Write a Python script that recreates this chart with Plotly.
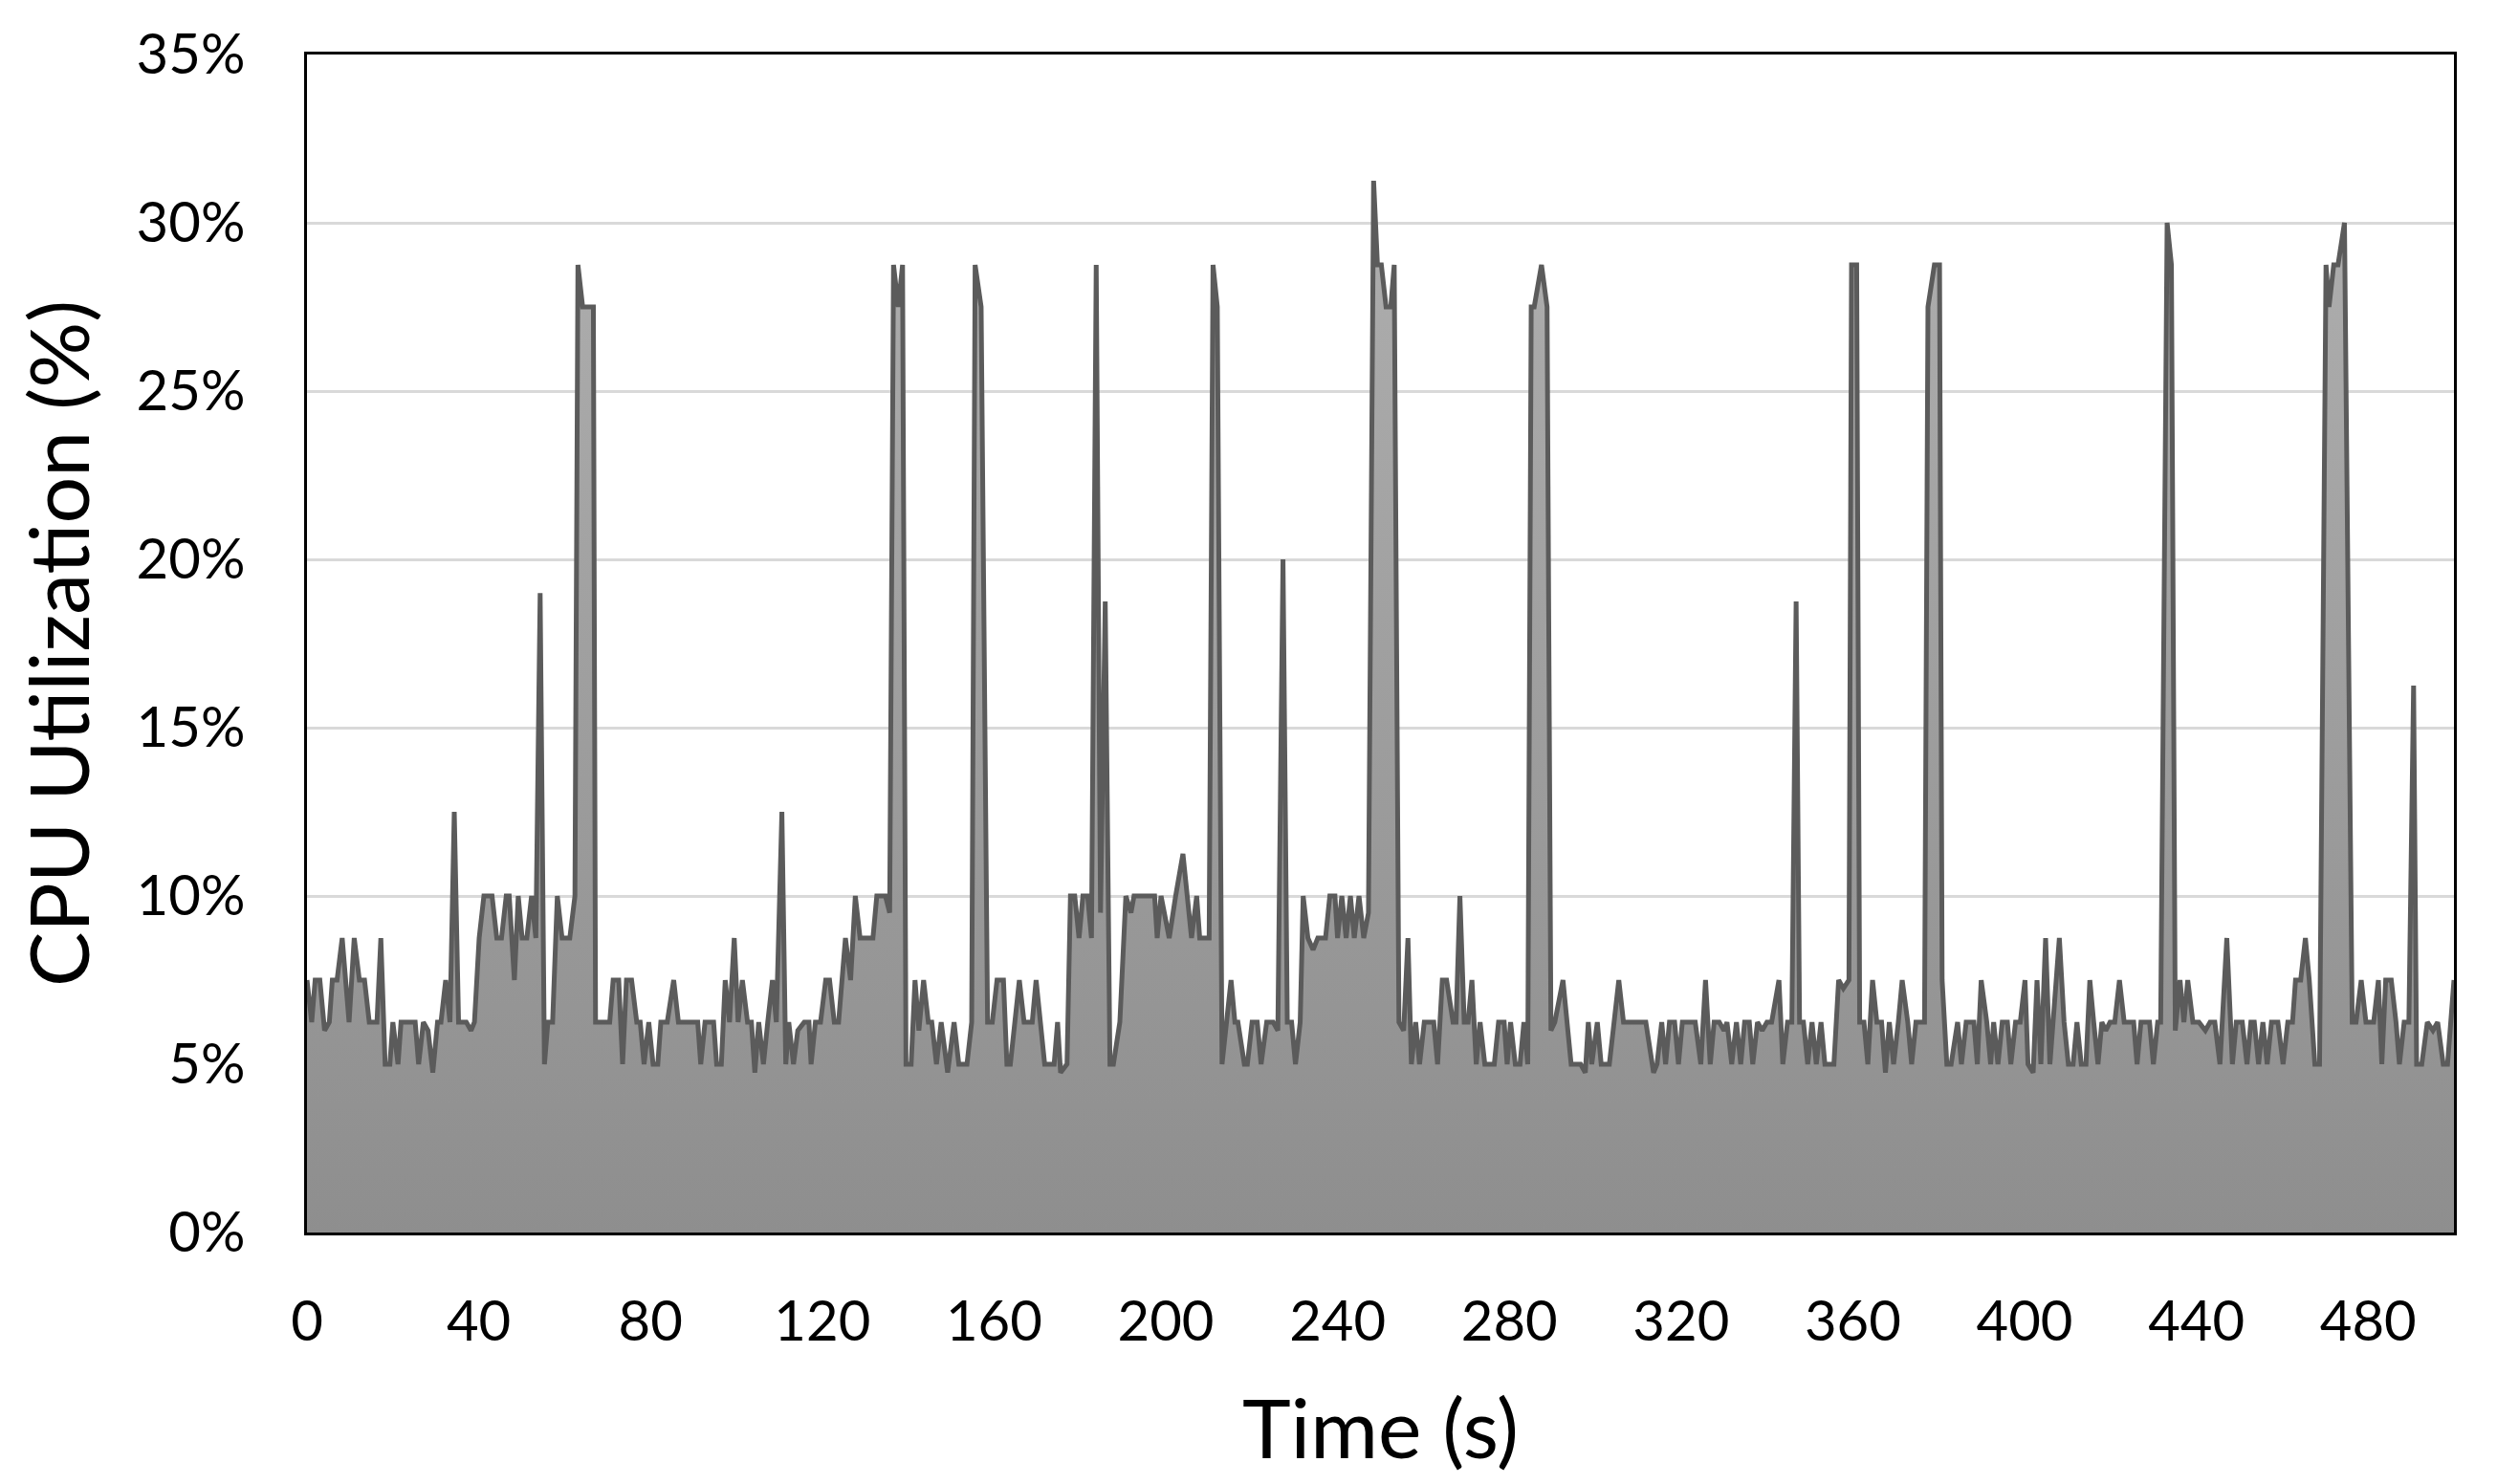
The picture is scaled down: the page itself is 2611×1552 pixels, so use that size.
import plotly.graph_objects as go

# CPU utilisation trace (time in s, utilisation in %)
time_s = [
    0, 1.1, 1.9, 3.0, 4.1, 5.2, 5.9, 7.0, 8.2, 9.8, 11.0, 12.2, 13.4, 14.5, 16.3, 17.2, 18.2, 19.3, 20.0, 21.2,
    21.9, 25.2, 26.0, 27.1, 28.2, 29.3, 30.4, 31.2, 32.3, 33.3, 34.3, 35.3, 37.1, 38.2, 39.0, 40.1, 41.2, 43.1,
    44.2, 45.3, 46.4, 47.1, 48.3, 49.2, 50.1, 51.2, 52.3, 53.3,
    54.3, 55.3, 56.1, 57.2, 58.3, 59.4, 61.2, 62.4, 63.1, 64.2, 66.7, 67.2, 70.5, 71.3, 72.6, 73.5, 74.4, 75.6,
    76.8, 77.6, 78.5, 79.6, 80.6, 81.7, 82.4, 83.9, 85.4, 86.5, 91.0, 91.7, 92.7, 94.7, 95.4, 96.5, 97.4, 98.4,
    99.5, 100.4, 101.4, 102.6, 103.5, 104.3, 105.2, 106.3, 107.3, 108.4, 109.3, 110.6, 111.5, 112.2, 113.3,
    114.3, 115.8, 116.9, 117.4, 118.4, 119.6, 120.8, 121.7, 122.8, 123.8, 125.4, 126.6, 127.7, 128.8, 131.8,
    132.7, 134.7, 135.7, 136.6, 137.7, 138.7, 139.5, 140.7, 141.6, 142.5, 143.6, 144.7, 145.5, 146.6, 147.7,
    149.2, 150.7, 151.8, 153.7, 154.8, 155.6, 157.0, 158.5, 159.6, 160.7, 162.2, 163.0, 163.8, 165.9, 167.0,
    168.9, 169.8, 171.8, 174.0, 174.8, 175.5, 177.0, 177.8, 178.8, 179.8, 180.7, 181.8, 182.7, 183.8, 184.8,
    185.9, 187.0, 187.8, 189.3, 190.7, 191.9, 192.6, 197.4, 198.0, 198.9, 200.8, 202.3, 204.0, 206.0, 207.2,
    207.9, 210.1, 211.0, 212.0, 213.1, 215.2, 216.1, 216.8, 218.3, 219.0, 220.1, 221.3, 222.2, 223.5, 225.0,
    226.1, 227.3, 228.3, 229.3, 230.2, 231.3, 232.0, 233.1, 234.3, 235.4, 237.2, 238.2, 239.4, 240.0, 241.0,
    242.0, 243.0, 243.9, 245.0, 246.1, 247.2, 248.4, 249.3, 250.2, 251.3, 252.4, 253.2, 254.3, 255.4, 256.4,
    257.2, 258.2, 259.1, 260.2, 262.4, 263.3, 264.4, 265.4, 266.9, 267.6, 268.5, 269.5, 270.4, 271.3, 272.3,
    273.2, 274.3, 276.5, 277.5, 278.8, 279.5, 280.3, 281.4, 282.5, 283.4, 284.3, 285.1, 285.8, 287.5, 288.8,
    289.7, 290.6, 292.5, 294.4, 296.6, 297.7, 298.4, 299.2, 300.5, 301.4, 303.3, 305.5, 306.6, 311.8, 313.6,
    314.4, 315.5, 316.4, 317.3, 318.5, 319.4, 320.3, 321.4, 322.3, 323.3, 324.6, 325.7, 326.8, 327.7, 328.9,
    330.0, 330.7, 331.8, 332.9, 333.9, 334.8, 335.9, 336.7, 337.8, 338.9, 340.0, 341.1, 342.8, 343.7, 344.8,
    345.8, 346.8, 347.6, 348.5, 349.5, 350.5, 351.5, 352.6, 353.5, 354.5, 355.6, 356.7, 357.8, 359.1, 359.7,
    360.9, 361.6, 362.6, 363.5, 364.6, 365.6, 366.7, 367.6, 368.5, 369.5, 370.6, 371.5, 372.8, 373.7, 374.7,
    376.7, 377.5, 379.0, 380.2, 380.8, 381.9, 382.9, 384.4, 385.3, 386.4, 388.2, 389.0, 389.9, 391.2, 392.1,
    392.8, 393.8, 394.8, 396.0, 396.8, 397.9, 399.0, 400.1, 400.8, 402.0, 402.9, 403.8, 404.9, 405.9, 408.1,
    409.2, 410.2, 411.3, 412.2, 413.2, 414.3, 415.2, 416.1, 417.1, 418.0, 418.9, 419.9, 421.0, 422.1, 423.2,
    425.4, 426.2, 427.1, 429.1, 430.0, 431.0, 431.7, 433.2, 434.2, 435.1, 436.2, 437.1, 438.0, 439.2, 440.6,
    442.1, 443.2, 444.3, 445.5, 447.1, 448.4, 449.3, 450.7, 451.8, 452.7, 453.5, 454.5, 455.5, 456.5, 457.5,
    459.0, 460.2, 461.3, 462.4, 463.1, 464.3, 465.4, 466.3, 467.6, 468.7, 470.2, 470.9, 472.0, 473.0, 474.5,
    476.3, 477.2, 478.4, 479.5, 481.3, 482.4, 483.2, 484.1, 485.4, 486.5, 487.3, 488.4, 489.5, 490.6, 491.3,
    492.5, 493.8, 495.1, 496.2, 497.5, 498.5, 500,
]
cpu_pct = [
    7.5, 6.25, 7.5, 7.5, 6.0, 6.25, 7.5, 7.5, 8.75, 6.25, 8.75, 7.5, 7.5, 6.25, 6.25, 8.75, 5, 5, 6.25, 5,
    6.25, 6.25, 5, 6.25, 6.0, 4.75, 6.25, 6.25, 7.5, 6.25, 12.5, 6.25, 6.25, 6.0, 6.25, 8.75, 10, 10,
    8.75, 8.75, 10, 10, 7.5, 10, 8.75, 8.75, 10, 8.75,
    19, 5, 6.25, 6.25, 10, 8.75, 8.75, 10, 28.75, 27.5, 27.5, 6.25, 6.25, 7.5, 7.5, 5, 7.5, 7.5,
    6.25, 6.25, 5, 6.25, 5, 5, 6.25, 6.25, 7.5, 6.25, 6.25, 5, 6.25, 6.25, 5, 5, 7.5, 6.25,
    8.75, 6.25, 7.5, 6.25, 6.25, 4.75, 6.25, 5, 6.25, 7.5, 6.25, 12.5, 5, 6.25, 5,
    6.0, 6.25, 6.25, 5, 6.25, 6.25, 7.5, 7.5, 6.25, 6.25, 8.75, 7.5, 10, 8.75, 8.75,
    10, 10, 9.5, 28.75, 27.5, 28.75, 5, 5, 7.5, 6.0, 7.5, 6.25, 6.25, 5, 6.25,
    4.75, 6.25, 5, 5, 6.25, 28.75, 27.5, 6.25, 6.25, 7.5, 7.5, 5, 5, 7.5, 6.25,
    6.25, 7.5, 5, 5, 6.25, 4.75, 5, 10, 10, 8.75, 10, 10, 8.75, 28.75, 9.5,
    18.75, 5, 5, 6.25, 10, 9.5, 10, 10, 8.75, 10, 8.75, 10, 11.25, 8.75, 10,
    8.75, 8.75, 28.75, 27.5, 5, 7.5, 6.25, 6.25, 5, 5, 6.25, 6.25, 5, 6.25, 6.25,
    6.0, 20, 6.25, 6.25, 5, 6.25, 10, 8.75, 8.4, 8.75, 8.75, 10, 10, 8.75, 10,
    8.75, 10, 8.75, 10, 8.75, 9.5, 31.25, 28.75, 28.75, 27.5, 27.5, 28.75, 6.25, 6.0, 8.75,
    5, 6.25, 5, 6.25, 6.25, 5, 7.5, 7.5, 6.25, 6.25, 10, 6.25, 6.25, 7.5, 5,
    6.25, 5, 5, 6.25, 6.25, 5, 6.25, 5, 5, 6.25, 5, 27.5, 27.5, 28.75, 27.5,
    6.0, 6.25, 7.5, 5, 5, 4.75, 6.25, 5, 6.25, 5, 5, 7.5, 6.25, 6.25, 4.75,
    5, 6.25, 5, 6.25, 6.25, 5, 6.25, 6.25, 6.25, 6.25, 5, 7.5, 5, 6.25, 6.25,
    6.0, 6.25, 5, 6.25, 5, 6.25, 6.25, 5, 6.25, 6.0, 6.25, 6.25, 7.5, 5, 6.25,
    6.25, 18.75, 6.25, 6.25, 5, 6.25, 5, 6.25, 5, 5, 5, 7.5, 7.25, 7.5, 28.75,
    28.75, 6.25, 6.25, 5, 7.5, 6.25, 6.25, 4.75, 6.25, 5, 6.25, 7.5, 6.25, 5, 6.25,
    6.25, 27.5, 28.75, 28.75, 7.5, 5, 5, 6.25, 5, 6.25, 6.25, 5, 7.5, 6.25, 5,
    6.25, 5, 6.25, 6.25, 5, 6.25, 6.25, 7.5, 5, 4.75, 7.5, 5, 8.75, 5, 8.75,
    6.25, 5, 5, 6.25, 5, 5, 7.5, 6.25, 5, 6.25, 6.0, 6.25, 6.25, 7.5, 6.25,
    6.25, 5, 6.25, 6.25, 5, 6.25, 6.25, 30, 28.75, 6.0, 7.5, 6.25, 7.5, 6.25, 6.25,
    6.0, 6.25, 6.25, 5, 8.75, 5, 6.25, 6.25, 5, 6.25, 6.25, 5, 6.25, 5, 6.25,
    6.25, 5, 6.25, 6.25, 7.5, 7.5, 8.75, 7.5, 5, 5, 28.75, 27.5, 28.75, 28.75, 30,
    6.25, 6.25, 7.5, 6.25, 6.25, 7.5, 5, 7.5, 7.5, 6.25, 5, 6.25, 6.25, 16.25, 5,
    5, 6.25, 6.0, 6.25, 5, 5, 7.5,
]

x_ticks = list(range(0, 481, 40))
y_ticks = list(range(0, 36, 5))
y_tick_labels = [f"{v}%" for v in y_ticks]

font_family = "Lato, 'Open Sans', sans-serif"

fig = go.Figure()
fig.add_trace(go.Scatter(
    x=time_s, y=cpu_pct,
    mode="lines",
    line=dict(color="#5b5b5b", width=5),
    fill="tozeroy",
    fillgradient=dict(type="vertical", start=0, stop=32,
                      colorscale=[[0, "#8e8e8e"], [1, "#afafaf"]]),
    showlegend=False,
))

fig.update_layout(
    width=2611, height=1552,
    margin=dict(l=313, r=53, t=45, b=271),
    paper_bgcolor="white",
    plot_bgcolor="white",
    font=dict(family=font_family, color="#000000"),
)
fig.update_xaxes(
    range=[0, 500], tickvals=x_ticks,
    showgrid=False, zeroline=False,
    showline=True, linecolor="black", linewidth=3, mirror=True,
    ticks="", tickfont=dict(size=58), ticklabelstandoff=40,
    title=dict(text="Time (s)", font=dict(size=86), standoff=53),
)
fig.update_yaxes(
    range=[0, 35], tickvals=y_ticks, ticktext=y_tick_labels,
    showgrid=True, gridcolor="#d9d9d9", gridwidth=3, zeroline=False,
    showline=True, linecolor="black", linewidth=3, mirror=True,
    ticks="", tickfont=dict(size=58), ticklabelstandoff=50,
    title=dict(text="CPU Utilization (%)", font=dict(size=86), standoff=38),
)

fig.write_html("out.html")
